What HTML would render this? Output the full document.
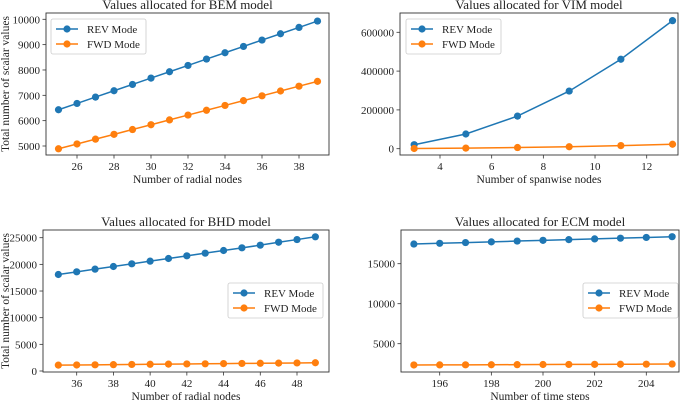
<!DOCTYPE html>
<html><head><meta charset="utf-8"><style>
body{margin:0;background:#fff}
svg text{font-family:"Liberation Serif",serif;fill:#222}
</style></head><body>
<svg id="c" width="685" height="400" xmlns="http://www.w3.org/2000/svg"></svg>
<script>
const bemX=[25,26,27,28,29,30,31,32,33,34,35,36,37,38,39];
const bemRev=[6430,6680,6930,7180,7430,7680,7930,8180,8430,8680,8930,9180,9430,9680,9930];
const bemFwd=[4890,5080,5270,5460,5650,5840,6030,6220,6410,6600,6790,6980,7170,7360,7550];
const bemXTicks=[26,28,30,32,34,36,38];
const bemYTicks=[5000,6000,7000,8000,9000,10000];
const vimX=[3,5,7,9,11,13];
const vimRev=[20600,75800,168000,297000,461000,660000];
const vimFwd=[1000,3000,6000,10000,16000,23000];
const vimXTicks=[4,6,8,10,12];
const vimYTicks=[0,200000,400000,600000];
const bhdX=[35,36,37,38,39,40,41,42,43,44,45,46,47,48,49];
const bhdRev=[18100,18600,19100,19600,20100,20600,21100,21600,22100,22600,23100,23600,24150,24650,25170];
const bhdFwd=[1100,1130,1160,1190,1230,1260,1290,1320,1350,1390,1420,1450,1480,1510,1550];
const bhdXTicks=[36,38,40,42,44,46,48];
const bhdYTicks=[0,5000,10000,15000,20000,25000];
const ecmX=[195,196,197,198,199,200,201,202,203,204,205];
const ecmRev=[17460,17550,17640,17730,17830,17920,18010,18100,18190,18280,18375];
const ecmFwd=[2340,2350,2360,2370,2380,2400,2410,2420,2430,2440,2460];
const ecmXTicks=[196,198,200,202,204];
const ecmYTicks=[5000,10000,15000];

const svg=document.getElementById('c');
const NS='http://www.w3.org/2000/svg';
function mk(tag,attrs,parent){const e=document.createElementNS(NS,tag);for(const k in attrs)e.setAttribute(k,attrs[k]);(parent||svg).appendChild(e);return e;}
function txt(s,attrs,parent){const e=mk('text',attrs,parent);e.textContent=s;return e;}

function panel(p){
  const g=mk('g',{});
  
  
  const sx=v=>p.x0px+(v-p.x0v)*(p.x1px-p.x0px)/(p.x1v-p.x0v);
  const sy=v=>p.y0px+(v-p.y0v)*(p.y1px-p.y0px)/(p.y1v-p.y0v);
  const t=txt(p.title,{x:(p.L+p.R)/2,y:p.T-4,'text-anchor':'middle','font-size':'13'},g);
  
  
  p.xt.forEach(v=>{const x=sx(v);mk('line',{x1:x,x2:x,y1:p.B,y2:p.B+3.5,stroke:'#333','stroke-width':0.8},g);
    const l=txt(String(v),{x:x,y:p.B+15,'text-anchor':'middle','font-size':'11'},g);
    
    });
  p.yt.forEach(v=>{const y=sy(v);mk('line',{x1:p.L-3.5,x2:p.L,y1:y,y2:y,stroke:'#333','stroke-width':0.8},g);
    const l=txt(String(v),{x:p.L-6,y:y+4,'text-anchor':'end','font-size':'11'},g);
    
    });
  const xl=txt(p.xlabel,{x:(p.L+p.R)/2,y:p.B+28,'text-anchor':'middle','font-size':'11.5'},g);
  
  
  if(p.ylabel){const cy=(p.T+p.B)/2;const yl=txt(p.ylabel,{x:9,y:cy,'text-anchor':'middle','font-size':'11.5',transform:`rotate(-90 9 ${cy})`},g);
    
    }
  [[p.rev,'#1f77b4','rev'],[p.fwd,'#ff7f0e','fwd']].forEach(([d,c,n])=>{
    const pts=p.xs.map((v,i)=>sx(v)+','+sy(d[i])).join(' ');
    const pl=mk('polyline',{points:pts,fill:'none',stroke:c,'stroke-width':1.5},g);
    
    
    p.xs.forEach((v,i)=>{const m=mk('circle',{cx:sx(v),cy:sy(d[i]),r:3.6,fill:c},g);
      
      });
  });
  mk('rect',{x:p.L,y:p.T,width:p.R-p.L,height:p.B-p.T,fill:'none',stroke:'#333','stroke-width':0.9},g);
  const lg=mk('g',{},g);
  
  
  mk('rect',{x:p.lx,y:p.ly,width:95,height:35,rx:2,fill:'#fff','fill-opacity':0.85,stroke:'#ccc','stroke-width':0.8},lg);
  [['REV Mode','#1f77b4'],['FWD Mode','#ff7f0e']].forEach(([s,c],i)=>{const y=p.ly+10+i*15;
    mk('line',{x1:p.lx+5,x2:p.lx+27,y1:y,y2:y,stroke:c,'stroke-width':1.5},lg);
    mk('circle',{cx:p.lx+16,cy:y,r:3.6,fill:c},lg);
    const e=txt(s,{x:p.lx+36,y:y+4,'font-size':'11'},lg);
    
    });
}
panel({name:'bem',title:'Values allocated for BEM model',xlabel:'Number of radial nodes',ylabel:'Total number of scalar values',
  L:46,R:329,T:13,B:155,x0v:26,x0px:77,x1v:38,x1px:299,y0v:5000,y0px:146,y1v:10000,y1px:19.3,
  xs:bemX,rev:bemRev,fwd:bemFwd,xt:bemXTicks,yt:bemYTicks,lx:51,ly:19});
panel({name:'vim',title:'Values allocated for VIM model',xlabel:'Number of spanwise nodes',
  L:400,R:678,T:13,B:155,x0v:4,x0px:440,x1v:12,x1px:646.7,y0v:0,y0px:148.7,y1v:600000,y1px:32.3,
  xs:vimX,rev:vimRev,fwd:vimFwd,xt:vimXTicks,yt:vimYTicks,lx:406,ly:19});
panel({name:'bhd',title:'Values allocated for BHD model',xlabel:'Number of radial nodes',ylabel:'Total number of scalar values',
  L:43,R:329,T:230,B:372,x0v:36,x0px:76.7,x1v:48,x1px:297,y0v:0,y0px:371,y1v:25000,y1px:237.7,
  xs:bhdX,rev:bhdRev,fwd:bhdFwd,xt:bhdXTicks,yt:bhdYTicks,lx:228,ly:283});
panel({name:'ecm',title:'Values allocated for ECM model',xlabel:'Number of time steps',
  L:401,R:679,T:230,B:372,x0v:196,x0px:439.7,x1v:204,x1px:646.3,y0v:5000,y0px:343.7,y1v:15000,y1px:263.7,
  xs:ecmX,rev:ecmRev,fwd:ecmFwd,xt:ecmXTicks,yt:ecmYTicks,lx:583,ly:283});
</script>
</body></html>
